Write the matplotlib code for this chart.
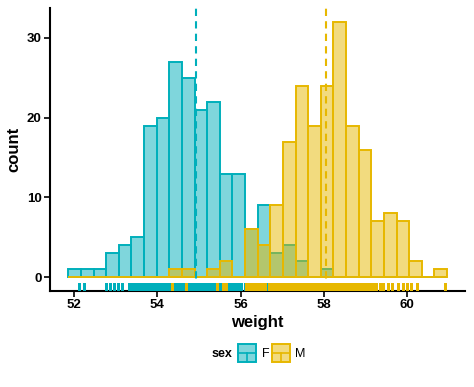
import matplotlib
matplotlib.use("Agg")
import matplotlib.pyplot as plt
import matplotlib.transforms as mtransforms
from matplotlib.patches import Rectangle
from matplotlib.lines import Line2D
import numpy as np

plt.rcParams['font.family'] = ['Liberation Sans', 'DejaVu Sans']

# histogram layout (30 bins)
bin_start = 51.856
bin_width = 0.3038

count_f = [1, 1, 1, 3, 4, 5, 19, 20, 27, 25, 21, 22, 13, 13, 6,
           9, 3, 4, 2, 0, 1, 0, 0, 0, 0, 0, 0, 0, 0, 0]
count_m = [0, 0, 0, 0, 0, 0, 0, 0, 1, 1, 0, 1, 2, 0, 6,
           4, 9, 17, 24, 19, 24, 32, 19, 16, 7, 8, 7, 2, 0, 1]

mean_f = 54.94
mean_m = 58.05

rug_f = [52.12, 52.24, 52.76, 52.86, 52.96, 53.06, 53.14, 53.32, 53.38, 53.44,
         53.50, 53.56, 53.62, 53.66, 53.70, 53.73, 53.77, 53.80, 53.83, 53.86,
         53.90, 53.93, 53.95, 53.99, 54.02, 54.05, 54.08, 54.11, 54.14, 54.17,
         54.20, 54.23, 54.26, 54.29, 54.31, 54.34, 54.37, 54.40, 54.43, 54.46,
         54.49, 54.52, 54.55, 54.58, 54.61, 54.64, 54.67, 54.70, 54.73, 54.76,
         54.79, 54.82, 54.85, 54.88, 54.91, 54.94, 54.97, 55.00, 55.04, 55.07,
         55.10, 55.13, 55.16, 55.19, 55.23, 55.26, 55.29, 55.32, 55.36, 55.39,
         55.42, 55.46, 55.50, 55.53, 55.57, 55.61, 55.65, 55.69, 55.73, 55.77,
         55.82, 55.86, 55.91, 55.96, 56.02, 56.10, 56.16, 56.24, 56.30, 56.35,
         56.48, 56.52, 56.56, 56.61, 56.66, 56.80, 56.90, 57.10, 57.20, 57.30,
         57.45, 57.60, 58.05]
rug_m = [54.34, 54.70, 55.43, 55.57, 55.66, 56.13, 56.18, 56.22, 56.28, 56.33,
         56.38, 56.45, 56.52, 56.60, 56.68, 56.76, 56.80, 56.84, 56.88, 56.92,
         56.96, 57.00, 57.03, 57.06, 57.09, 57.12, 57.15, 57.18, 57.21, 57.24,
         57.27, 57.30, 57.33, 57.36, 57.39, 57.42, 57.45, 57.48, 57.51, 57.54,
         57.57, 57.60, 57.63, 57.66, 57.69, 57.72, 57.75, 57.78, 57.81, 57.84,
         57.87, 57.90, 57.93, 57.96, 57.99, 58.02, 58.05, 58.08, 58.11, 58.14,
         58.17, 58.20, 58.23, 58.26, 58.29, 58.32, 58.35, 58.38, 58.41, 58.44,
         58.47, 58.50, 58.53, 58.56, 58.60, 58.64, 58.68, 58.72, 58.76, 58.80,
         58.84, 58.88, 58.93, 58.98, 59.03, 59.08, 59.14, 59.20, 59.27, 59.36,
         59.43, 59.55, 59.65, 59.79, 59.91, 60.01, 60.10, 60.25, 60.92]

sexes = ['F', 'M']
colors = {'F': '#00AFBB', 'M': '#E7B800'}

fig = plt.figure(figsize=(4.74, 3.87), dpi=100)
ax = fig.add_axes([50/474, 96/387, 415/474, 282.7/387])

lefts = bin_start + bin_width*np.arange(len(count_f))
for sex, counts in zip(sexes, [count_f, count_m]):
    ax.bar(lefts, counts, width=bin_width, align='edge',
           facecolor=matplotlib.colors.to_rgba(colors[sex], 0.5),
           edgecolor=colors[sex], linewidth=1.4, zorder=2)

for sex, mu in zip(sexes, [mean_f, mean_m]):
    ax.axvline(mu, color=colors[sex], linewidth=1.5, dashes=(3.5, 2.5), zorder=3)

trans = mtransforms.blended_transform_factory(ax.transData, ax.transAxes)
for sex, rug in zip(sexes, [rug_f, rug_m]):
    ax.vlines(rug, 0, 0.03, transform=trans, color=colors[sex], linewidth=0.9,
              antialiased=False, zorder=4)

ax.set_xlim(51.415, 61.403)
ax.set_ylim(-1.72, 33.7)
ax.set_xticks([52, 54, 56, 58, 60])
ax.set_yticks([0, 10, 20, 30])
for s in ['top', 'right']:
    ax.spines[s].set_visible(False)
for s in ['left', 'bottom']:
    ax.spines[s].set_linewidth(1.5)
ax.tick_params(length=4, width=1.2, labelsize=9.5, pad=2)
for lab in ax.get_xticklabels() + ax.get_yticklabels():
    lab.set_fontweight('bold')
ax.set_xlabel('weight', fontsize=12, fontweight='bold', labelpad=3)
ax.set_ylabel('count', fontsize=12, fontweight='bold', labelpad=4)

# legend at the bottom, drawn by hand in pixel positions
W, H = 474, 387
fig.text(222/W, 1 - 354/H, 'sex', fontsize=9, fontweight='bold', ha='center', va='center')
keys = [('F', 238, 262), ('M', 272, 295)]
for sex, kx, tx in keys:
    c = colors[sex]
    fig.add_artist(Rectangle((kx/W, 1 - 362/H), 18/W, 18/H, transform=fig.transFigure,
                             facecolor=matplotlib.colors.to_rgba(c, 0.5), edgecolor=c, linewidth=1.4))
    fig.add_artist(Line2D([kx/W, (kx+18)/W], [1 - 353/H, 1 - 353/H], transform=fig.transFigure,
                          color=c, linewidth=1.2))
    fig.add_artist(Line2D([(kx+9)/W, (kx+9)/W], [1 - 353/H, 1 - 362/H], transform=fig.transFigure,
                          color=c, linewidth=1.2))
    fig.text(tx/W, 1 - 354/H, sex, fontsize=9, ha='left', va='center')

fig.savefig('out.png', dpi=100)
